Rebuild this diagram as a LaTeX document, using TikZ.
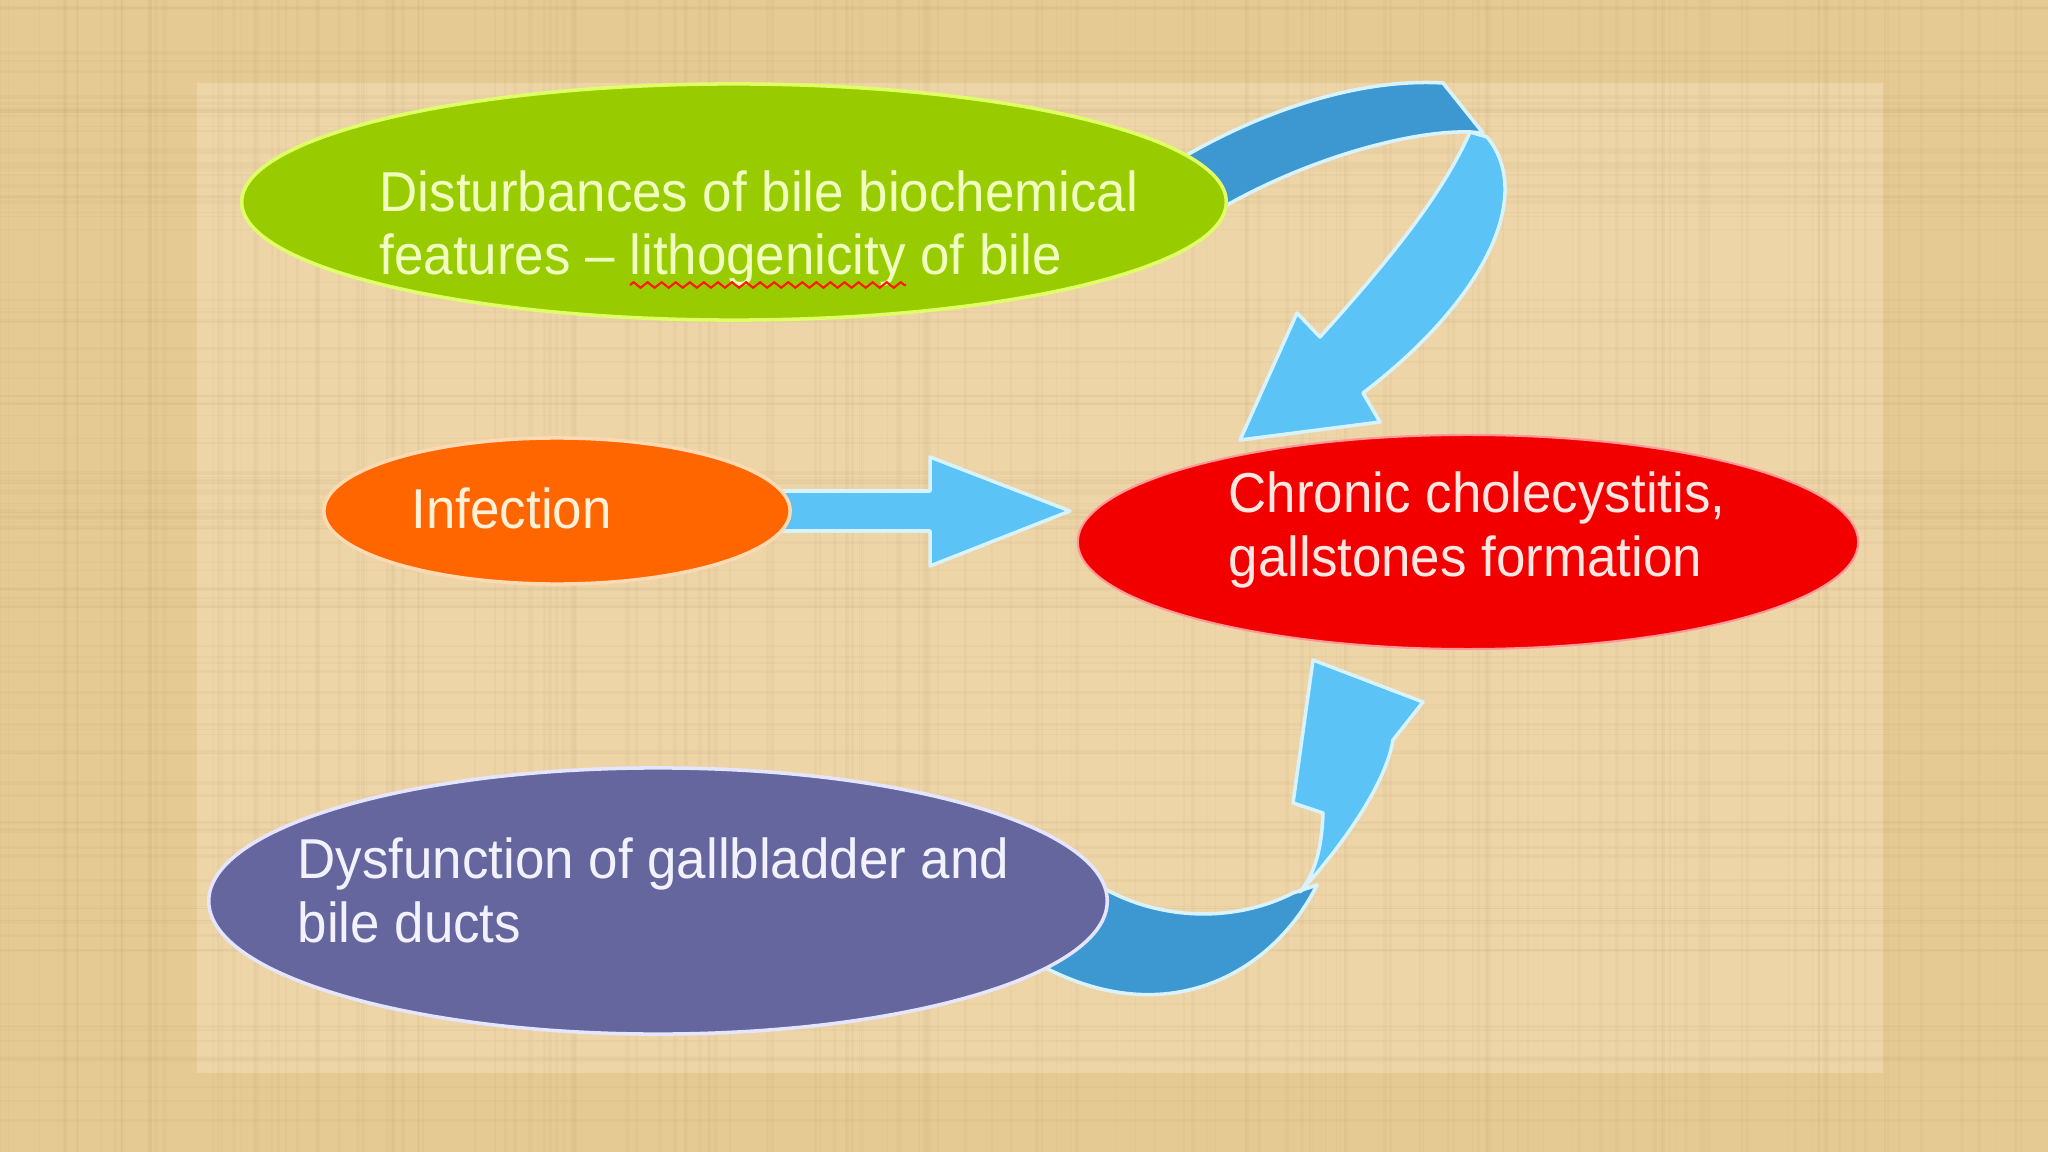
\documentclass[tikz,border=0pt]{standalone}
\usepackage{fontspec}
\setmainfont{Liberation Sans}[FakeStretch=0.94]
\usetikzlibrary{shapes.geometric,decorations.pathmorphing}
\definecolor{bgout}{HTML}{E6CA94}
\definecolor{bgin}{HTML}{EDD5A8}
\definecolor{texture}{HTML}{A88850}
\definecolor{cgreen}{HTML}{99CC00}
\definecolor{corange}{HTML}{FF6600}
\definecolor{cred}{HTML}{F20000}
\definecolor{cpurple}{HTML}{66669E}
\definecolor{alight}{HTML}{5BC3F5}
\definecolor{adark}{HTML}{3D98D2}
\definecolor{tgreen}{HTML}{F0FFC0}
\definecolor{torange}{HTML}{FFF0D8}
\definecolor{tred}{HTML}{FFE6E0}
\definecolor{tpurple}{HTML}{F2F2FF}
\begin{document}
\begin{tikzpicture}[x=0.01cm,y=-0.01cm,
  bubble/.style={ellipse, inner sep=0pt, line width=1pt},
  lbl/.style={anchor=base west, inner sep=0pt, font=\fontsize{16}{19}\selectfont},
  blockarrow/.style={draw=white!85!cyan, line width=1pt, line join=round},
  tex/.style={texture, opacity=0.055}]
\useasboundingbox (0,0) rectangle (2048,1152);
% background
\fill[bgout] (0,0) rectangle (2048,1152);
\fill[bgin] (197,83) rectangle (1883,1073);
\pgfmathsetseed{7}
\foreach \i in {1,...,170}{
  \pgfmathsetmacro\xx{rnd*2048}
  \pgfmathsetmacro\ww{0.2+rnd*1.0}
  \draw[tex, line width=\ww pt] (\xx,0) -- (\xx,1152);
}
\foreach \i in {1,...,110}{
  \pgfmathsetmacro\yy{rnd*1152}
  \pgfmathsetmacro\ww{0.2+rnd*1.0}
  \draw[tex, line width=\ww pt] (0,\yy) -- (2048,\yy);
}
% arrows (behind the ellipses)
\filldraw[blockarrow, fill=adark] (1170,165) .. controls (1260,110) and (1360,78) .. (1443,83)
  -- (1483,133) -- (1470,132) .. controls (1410,130) and (1300,160) .. (1210,215) -- cycle;
\filldraw[blockarrow, fill=alight] (1470,132) -- (1487,137) .. controls (1535,195) and (1485,300) .. (1363,393)
  -- (1380,422) -- (1240,440) -- (1297,313) -- (1320,337)
  .. controls (1380,270) and (1440,200) .. (1470,132) -- cycle;
\filldraw[blockarrow, fill=alight] (770,491) -- (930,491) -- (930,457) -- (1070,511)
  -- (930,566) -- (930,531) -- (770,531) -- cycle;
\filldraw[blockarrow, fill=adark] (1090,880) .. controls (1150,920) and (1230,925) .. (1293,893)
  -- (1317,885) .. controls (1275,970) and (1170,1035) .. (1040,965) -- cycle;
\filldraw[blockarrow, fill=alight] (1300,892) .. controls (1330,860) and (1385,790) .. (1393,740)
  -- (1423,702) -- (1313,660) -- (1293,803) -- (1323,813)
  .. controls (1322,840) and (1318,870) .. (1300,892) -- cycle;
% ellipses
\node[bubble, fill=cgreen, draw=green!20!yellow!60!white, minimum width=9.84cm, minimum height=2.36cm] (green) at (734,202) {};
\node[bubble, fill=corange, draw=orange!30!white, minimum width=4.66cm, minimum height=1.46cm] (orange) at (557,511) {};
\node[bubble, fill=cred, draw=red!40!white, line width=0.6pt, minimum width=7.80cm, minimum height=2.14cm] (red) at (1468,542) {};
\node[bubble, fill=cpurple, draw=blue!10!white, minimum width=8.98cm, minimum height=2.66cm] (purple) at (658,901) {};
% texts
\node[lbl, text=tgreen] (g1) at (379,212) {Disturbances of bile biochemical};
\node[lbl, text=tgreen] (g2) at (379,275) {features – lithogenicity of bile};
\coordinate (sq1) at (630,285);
\coordinate (sq2) at (906,285);
\draw[red!80!orange, line width=0.6pt, decorate, decoration={zigzag, segment length=4pt, amplitude=0.8pt}] (sq1) -- (sq2);
\node[lbl, text=torange] (o1) at (411,529) {Infection};
\node[lbl, text=tred] (r1) at (1228,513) {Chronic cholecystitis,};
\node[lbl, text=tred] (r2) at (1228,577) {gallstones formation};
\node[lbl, text=tpurple] (p1) at (297,878) {Dysfunction of gallbladder and};
\node[lbl, text=tpurple] (p2) at (297,942) {bile ducts};
\end{tikzpicture}
\end{document}
